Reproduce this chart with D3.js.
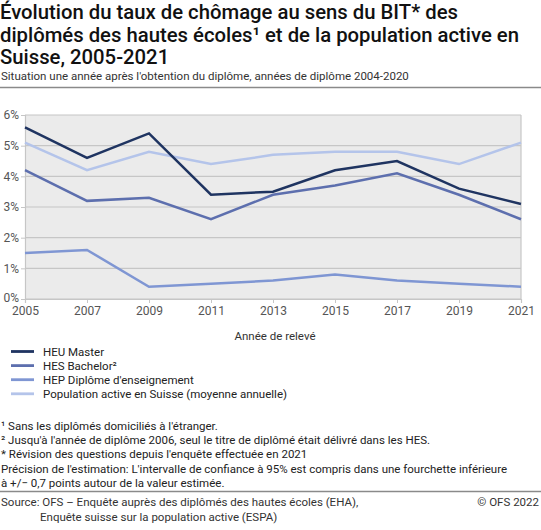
<!DOCTYPE html>
<html>
<head>
<meta charset="utf-8">
<script src="https://cdn.jsdelivr.net/npm/d3@7"></script>
<style>
  body { margin: 0; background: #fff; }
  svg { font-family: Roboto, "Noto Sans", sans-serif; }
</style>
</head>
<body>
<div id="chart"></div>
<script>
// Data
const years = [2005, 2007, 2009, 2011, 2013, 2015, 2017, 2019, 2021];
const heuMaster = [5.6, 4.6, 5.4, 3.4, 3.5, 4.2, 4.5, 3.6, 3.1];
const hesBachelor = [4.2, 3.2, 3.3, 2.6, 3.4, 3.7, 4.1, 3.4, 2.6];
const hepDiplome = [1.5, 1.6, 0.4, 0.5, 0.6, 0.8, 0.6, 0.5, 0.4];
const populationActive = [5.1, 4.2, 4.8, 4.4, 4.7, 4.8, 4.8, 4.4, 5.1];
const seriesNames = ['HEU Master', 'HES Bachelor²', 'HEP Diplôme d\'enseignement', 'Population active en Suisse (moyenne annuelle)'];
const yTicks = [0, 1, 2, 3, 4, 5, 6];

const titleLines = [
    'Évolution du taux de chômage au sens du BIT* des',
    'diplômés des hautes écoles¹ et de la population active en',
    'Suisse, 2005-2021'
];
const subtitle = 'Situation une année après l\'obtention du diplôme, années de diplôme 2004-2020';
const footnotes = [
    '¹ Sans les diplômés domiciliés à l\'étranger.',
    '² Jusqu\'à l\'année de diplôme 2006, seul le titre de diplômé était délivré dans les HES.',
    '* Révision des questions depuis l\'enquête effectuée en 2021',
    'Précision de l\'estimation: L\'intervalle de confiance à 95% est compris dans une fourchette inférieure',
    'à +/− 0,7 points autour de la valeur estimée.'
];

const series = [
    { name: seriesNames[0], values: heuMaster, color: '#1f3461' },
    { name: seriesNames[1], values: hesBachelor, color: '#5d6fae' },
    { name: seriesNames[2], values: hepDiplome, color: '#7f96d3' },
    { name: seriesNames[3], values: populationActive, color: '#b4c4ea' }
];

const width = 541;
const height = 530;
const plot = { left: 25, right: 521, top: 115, bottom: 299 };

const svg = d3.select('#chart')
    .append('svg')
    .attr('width', width)
    .attr('height', height);

// Title and subtitle
svg.append('g').selectAll('text')
    .data(titleLines)
    .enter().append('text')
    .attr('x', 0)
    .attr('y', (d, i) => 19 + i * 22.5)
    .style('font-size', '20.3px')
    .style('font-weight', '500')
    .attr('fill', '#111')
    .text(d => d);

svg.append('text')
    .attr('x', 1)
    .attr('y', 80)
    .style('font-size', '11.5px')
    .attr('fill', '#333')
    .text(subtitle);

svg.append('line')
    .attr('x1', 0).attr('x2', width)
    .attr('y1', 87.5).attr('y2', 87.5)
    .attr('stroke', '#8a8a8a')
    .attr('stroke-width', 1.5);

// Scales
const x = d3.scaleLinear()
    .domain([d3.min(years), d3.max(years)])
    .range([plot.left, plot.right]);

const y = d3.scaleLinear()
    .domain([0, 6])
    .range([plot.bottom, plot.top]);

// Plot background
svg.append('rect')
    .attr('x', plot.left)
    .attr('y', plot.top)
    .attr('width', plot.right - plot.left)
    .attr('height', plot.bottom - plot.top)
    .attr('fill', '#ebebeb');

// Gridlines
svg.append('g').selectAll('line')
    .data(yTicks)
    .enter().append('line')
    .attr('x1', plot.left).attr('x2', plot.right)
    .attr('y1', d => y(d)).attr('y2', d => y(d))
    .attr('stroke', '#c6c6c6')
    .attr('stroke-width', 1.2);

// Right border
svg.append('line')
    .attr('x1', plot.right).attr('x2', plot.right)
    .attr('y1', plot.top).attr('y2', plot.bottom)
    .attr('stroke', '#c6c6c6')
    .attr('stroke-width', 1.2);

// Y axis
const yAxis = svg.append('g')
    .attr('transform', `translate(${plot.left},0)`)
    .call(d3.axisLeft(y).tickValues(yTicks).tickFormat(d => d + '%').tickSize(4).tickPadding(2));
yAxis.select('.domain').attr('stroke', '#c6c6c6').attr('stroke-width', 1.2);
yAxis.selectAll('.tick line').attr('stroke', '#c6c6c6');
yAxis.selectAll('text')
    .style('font-size', '12px')
    .style('font-family', 'Roboto, sans-serif')
    .attr('fill', '#555');
// keep the 0% label clear of the first year label
yAxis.selectAll('.tick text').filter(d => d === 0).attr('dy', '0.2em');

// X axis
const xAxis = svg.append('g')
    .attr('transform', `translate(0,${plot.bottom})`)
    .call(d3.axisBottom(x).tickValues(years).tickFormat(d3.format('d')).tickSize(4).tickPadding(3));
xAxis.select('.domain').attr('stroke', '#c6c6c6').attr('stroke-width', 1.2);
xAxis.selectAll('.tick line').attr('stroke', '#c6c6c6');
xAxis.selectAll('text')
    .style('font-size', '12px')
    .style('font-family', 'Roboto, sans-serif')
    .attr('fill', '#555');

svg.append('text')
    .attr('x', (plot.left + plot.right) / 2 + 2)
    .attr('y', 340)
    .attr('text-anchor', 'middle')
    .style('font-size', '11.5px')
    .attr('fill', '#333')
    .text('Année de relevé');

// Lines
const line = d3.line()
    .x((d, i) => x(years[i]))
    .y(d => y(d));

svg.append('g').selectAll('path')
    .data(series.slice().reverse())
    .enter().append('path')
    .attr('d', d => line(d.values))
    .attr('fill', 'none')
    .attr('stroke', d => d.color)
    .attr('stroke-width', 2.5)
    .attr('stroke-linejoin', 'miter');

// Legend
const legend = svg.append('g').selectAll('g')
    .data(series)
    .enter().append('g')
    .attr('transform', (d, i) => `translate(0,${351.5 + i * 14.1})`);

legend.append('line')
    .attr('x1', 11).attr('x2', 34)
    .attr('stroke', d => d.color)
    .attr('stroke-width', 2.8);

legend.append('text')
    .attr('x', 43)
    .attr('y', 4)
    .style('font-size', '11.5px')
    .attr('fill', '#222')
    .text(d => d.name);

// Footnotes
svg.append('g').selectAll('text')
    .data(footnotes)
    .enter().append('text')
    .attr('x', 1)
    .attr('y', (d, i) => 430 + i * 14.2)
    .style('font-size', '11.5px')
    .attr('fill', '#222')
    .text(d => d);

svg.append('line')
    .attr('x1', 0).attr('x2', width)
    .attr('y1', 491.5).attr('y2', 491.5)
    .attr('stroke', '#8a8a8a')
    .attr('stroke-width', 1.5);

svg.append('text')
    .attr('x', 1)
    .attr('y', 506)
    .style('font-size', '11.5px')
    .attr('fill', '#333')
    .text('Source: OFS – Enquête auprès des diplômés des hautes écoles (EHA),');

svg.append('text')
    .attr('x', 40)
    .attr('y', 520.5)
    .style('font-size', '11.5px')
    .attr('fill', '#333')
    .text('Enquête suisse sur la population active (ESPA)');

svg.append('text')
    .attr('x', 539)
    .attr('y', 506)
    .attr('text-anchor', 'end')
    .style('font-size', '11.5px')
    .attr('fill', '#333')
    .text('© OFS 2022');
</script>
</body>
</html>
